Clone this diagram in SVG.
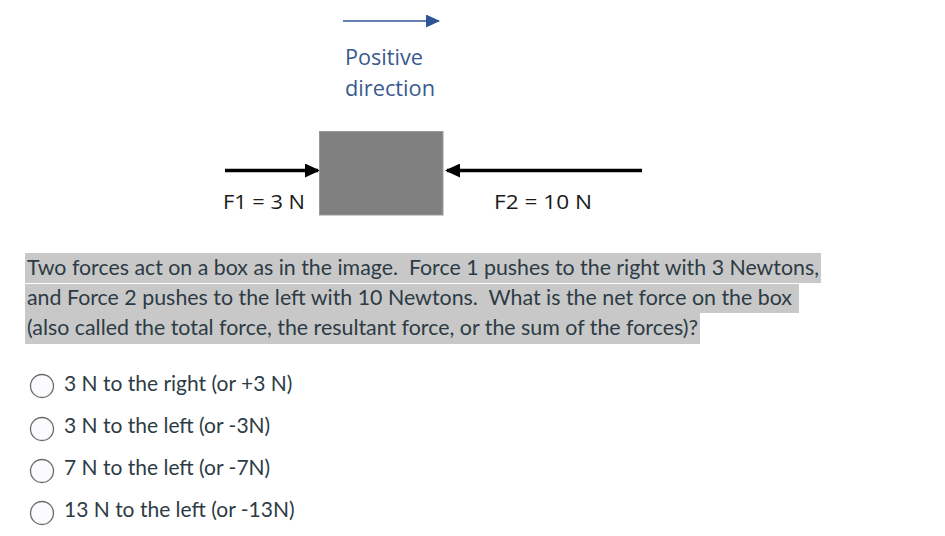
<svg xmlns="http://www.w3.org/2000/svg" width="945" height="536" viewBox="0 0 945 536">
<style>
.lbl{font-family:"Open Sans","Liberation Sans",sans-serif;font-size:20px;fill:#1a1a1a}
.pos{font-family:"Open Sans","Liberation Sans",sans-serif;font-size:21px;fill:#3a5a8e}
.q{font-family:Lato,"Liberation Sans",sans-serif;font-size:21px;fill:#2d3b45;white-space:pre}
.opt{font-family:Lato,"Liberation Sans",sans-serif;font-size:21px;fill:#2d3b45}
.hl{fill:#c8c8c8}
.radio{fill:#fbfbfd;stroke:#6b6b6b;stroke-width:1.3}
.force{stroke:#000;stroke-width:3.5;fill:none}
</style>
<defs>
<marker id="ah" markerWidth="15" markerHeight="14" refX="13" refY="7" orient="auto" markerUnits="userSpaceOnUse">
<path d="M0,0 L15,7 L0,14 Z" fill="#000"/>
</marker>
<marker id="ahb" markerWidth="14" markerHeight="13" refX="13" refY="6.5" orient="auto" markerUnits="userSpaceOnUse">
<path d="M0,0 L14,6.5 L0,13 Z" fill="#2f5597"/>
</marker>
</defs>
<rect width="945" height="536" fill="#fff"/>
<g id="connectors">
<line class="force" x1="225" y1="170.5" x2="318" y2="170.5" marker-end="url(#ah)"/>
<line class="force" x1="642" y1="170.5" x2="447" y2="170.5" marker-end="url(#ah)"/>
<line x1="343" y1="21" x2="439" y2="21" stroke="#2f5597" stroke-width="1.3" marker-end="url(#ahb)"/>
</g>
<g id="box">
<rect x="319.5" y="131.5" width="123.5" height="83.5" fill="#808080" stroke="#9a9a9a" stroke-width="1"/>
</g>
<g id="positive-label">
<text class="pos" x="345" y="65" textLength="78" lengthAdjust="spacingAndGlyphs">Positive</text>
<text class="pos" x="345" y="96" textLength="90" lengthAdjust="spacingAndGlyphs">direction</text>
</g>
<g id="f1-label">
<text class="lbl" x="223" y="209" textLength="82" lengthAdjust="spacingAndGlyphs">F1 = 3 N</text>
</g>
<g id="f2-label">
<text class="lbl" x="494" y="209" textLength="98" lengthAdjust="spacingAndGlyphs">F2 = 10 N</text>
</g>
<g id="question">
<rect class="hl" x="25" y="253" width="796" height="30"/>
<rect class="hl" x="25" y="284" width="774" height="29"/>
<rect class="hl" x="25" y="313" width="675" height="31"/>
<text class="q" x="27" y="275" textLength="792" lengthAdjust="spacingAndGlyphs" xml:space="preserve">Two forces act on a box as in the image.  Force 1 pushes to the right with 3 Newtons,</text>
<text class="q" x="27" y="305" textLength="765" lengthAdjust="spacingAndGlyphs" xml:space="preserve">and Force 2 pushes to the left with 10 Newtons.  What is the net force on the box</text>
<text class="q" x="27" y="335" textLength="671" lengthAdjust="spacingAndGlyphs">(also called the total force, the resultant force, or the sum of the forces)?</text>
</g>
<g id="option1">
<circle class="radio" cx="42" cy="386" r="11.5"/>
<text class="opt" x="64" y="391">3 N to the right (or +3 N)</text>
</g>
<g id="option2">
<circle class="radio" cx="42" cy="429" r="11.5"/>
<text class="opt" x="64" y="433">3 N to the left (or -3N)</text>
</g>
<g id="option3">
<circle class="radio" cx="42" cy="471" r="11.5"/>
<text class="opt" x="64" y="475">7 N to the left (or -7N)</text>
</g>
<g id="option4">
<circle class="radio" cx="42" cy="513" r="11.5"/>
<text class="opt" x="64" y="517">13 N to the left (or -13N)</text>
</g>
</svg>
